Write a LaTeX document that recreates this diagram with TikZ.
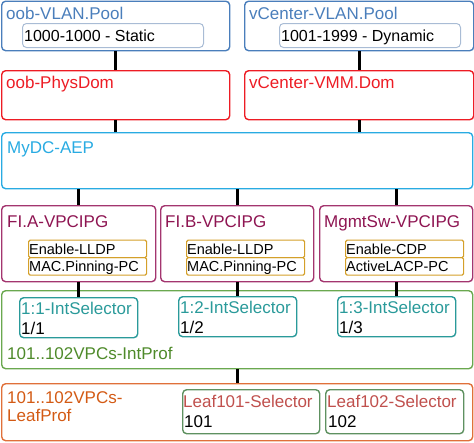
\documentclass[tikz,border=0pt]{standalone}
\usepackage{fontspec}
\setmainfont{Liberation Sans}
\usetikzlibrary{
  calc
  , positioning
}
\definecolor{poolblue}{HTML}{4A7EBB}
\definecolor{poolinner}{HTML}{A9BCD5}
\definecolor{domred}{HTML}{ED1C24}
\definecolor{aepcyan}{HTML}{29ABE2}
\definecolor{ipgline}{HTML}{A3356F}
\definecolor{ipgtext}{HTML}{8E1552}
\definecolor{polgold}{HTML}{D4A02A}
\definecolor{profline}{HTML}{6AA84F}
\definecolor{proftext}{HTML}{4E8A2A}
\definecolor{selteal}{HTML}{2A9A9A}
\definecolor{leafline}{HTML}{E0703A}
\definecolor{leaftext}{HTML}{D35A14}
\definecolor{lselline}{HTML}{5E9160}
\definecolor{lseltext}{HTML}{C0504D}
\tikzset{
  box/.style={draw=#1, rounded corners=4pt, line width=1.4pt,
    inner sep=0pt, anchor=north west},
  polbox/.style={draw=polgold, rounded corners=1.5pt, line width=1.2pt,
    inner sep=0pt, anchor=north west, minimum width=118pt, minimum height=17.5pt},
  title/.style={text=#1, anchor=west, inner sep=0pt,
    font=\fontsize{17}{17}\selectfont, text height=12.2pt, text depth=0pt},
  valtext/.style={anchor=west, inner sep=0pt,
    font=\fontsize{16}{16}\selectfont, text height=11.5pt, text depth=0pt},
  poltext/.style={anchor=west, inner sep=0pt,
    font=\fontsize{14.5}{14.5}\selectfont, text height=10.4pt, text depth=0pt},
  conn/.style={line width=3pt},
}
\begin{document}
\begin{tikzpicture}[x=1pt, y=-1pt]
      \useasboundingbox (0,0) rectangle (474,442);

      % vlan pools
      \node [box=poolblue, minimum width=228, minimum height=49.5] (pool1) at (1,0.5) {};
      \node [box=poolblue, minimum width=229, minimum height=49.5] (pool2) at (244,0.5) {};
      \node [box=poolinner, line width=1pt, minimum width=181, minimum height=24] (val1) at (22,23) {};
      \node [box=poolinner, line width=1pt, minimum width=181, minimum height=24] (val2) at (279,23) {};
      \node [title=poolblue] (pool1t) at ($(pool1.north west)+(5,13)$) {oob-VLAN.Pool};
      \node [title=poolblue] (pool2t) at ($(pool2.north west)+(5,13)$) {vCenter-VLAN.Pool};
      \node [valtext] (val1t) at ($(val1.west)+(2,0)$) {1000-1000 - Static};
      \node [valtext] (val2t) at ($(val2.west)+(2,0)$) {1001-1999 - Dynamic};

      % domains
      \node [box=domred, minimum width=228, minimum height=49] (phys1) at (1,70) {};
      \node [box=domred, minimum width=229, minimum height=49] (phys2) at (244,70) {};
      \node [title=domred] (phys1t) at ($(phys1.north west)+(5,12)$) {oob-PhysDom};
      \node [title=domred] (phys2t) at ($(phys2.north west)+(5,12)$) {vCenter-VMM.Dom};

      % aep
      \node [box=aepcyan, minimum width=471, minimum height=56] (aep) at (1,132) {};
      \node [title=aepcyan] (aept) at ($(aep.north west)+(6,15)$) {MyDC-AEP};

      % policy groups
      \node [box=ipgline, minimum width=154, minimum height=76] (ipga) at (1,205) {};
      \node [box=ipgline, minimum width=153, minimum height=76] (ipgb) at (160,205) {};
      \node [box=ipgline, minimum width=153, minimum height=76] (ipgc) at (319,205) {};
      \node [title=ipgtext] (ipgat) at ($(ipga.north west)+(6,16)$) {FI.A-VPCIPG};
      \node [title=ipgtext] (ipgbt) at ($(ipgb.north west)+(5,16)$) {FI.B-VPCIPG};
      \node [title=ipgtext] (ipgct) at ($(ipgc.north west)+(5,16)$) {MgmtSw-VPCIPG};

      \node [polbox] (lldpa) at (28,239.5) {};
      \node [polbox] (maca) at (28,257) {};
      \node [polbox] (lldpb) at (186,239.5) {};
      \node [polbox] (macb) at (186,257) {};
      \node [polbox] (cdpc) at (345,239.5) {};
      \node [polbox] (lacpc) at (345,257) {};
      \node [poltext] (lldpat) at ($(lldpa.west)+(1,0)$) {Enable-LLDP};
      \node [poltext] (macat) at ($(maca.west)+(1,0)$) {MAC.Pinning-PC};
      \node [poltext] (lldpbt) at ($(lldpb.west)+(1,0)$) {Enable-LLDP};
      \node [poltext] (macbt) at ($(macb.west)+(1,0)$) {MAC.Pinning-PC};
      \node [poltext] (cdpct) at ($(cdpc.west)+(1,0)$) {Enable-CDP};
      \node [poltext] (lacpct) at ($(lacpc.west)+(1,0)$) {ActiveLACP-PC};

      % interface profile
      \node [box=profline, minimum width=471, minimum height=78] (intprof) at (1,290) {};
      \node [title=proftext] (intproft) at ($(intprof.north west)+(6,63)$) {101..102VPCs-IntProf};

      \node [box=selteal, minimum width=118, minimum height=40] (sela) at (19,297) {};
      \node [box=selteal, minimum width=118, minimum height=40] (selb) at (178,296) {};
      \node [box=selteal, minimum width=118, minimum height=40] (selc) at (337,296) {};
      \node [title=selteal] (selat) at ($(sela.north west)+(2,11)$) {1:1-IntSelector};
      \node [title=black] (selap) at ($(sela.north west)+(2,31)$) {1/1};
      \node [title=selteal] (selbt) at ($(selb.north west)+(2,11)$) {1:2-IntSelector};
      \node [title=black] (selbp) at ($(selb.north west)+(2,31)$) {1/2};
      \node [title=selteal] (selct) at ($(selc.north west)+(2,11)$) {1:3-IntSelector};
      \node [title=black] (selcp) at ($(selc.north west)+(2,31)$) {1/3};

      % leaf profile
      \node [box=leafline, minimum width=471, minimum height=57] (leafprof) at (1,383) {};
      \node [title=leaftext] (leafproft) at ($(leafprof.north west)+(6,14)$) {101..102VPCs-};
      \node [title=leaftext] (leafprofu) at ($(leafprof.north west)+(6,32)$) {LeafProf};

      \node [box=lselline, minimum width=137, minimum height=44] (leafa) at (182,389) {};
      \node [box=lselline, minimum width=138, minimum height=44] (leafb) at (325,389) {};
      \node [title=lseltext] (leafat) at ($(leafa.north west)+(1,12)$) {Leaf101-Selector};
      \node [title=black] (leafan) at ($(leafa.north west)+(2,32)$) {101};
      \node [title=lseltext] (leafbt) at ($(leafb.north west)+(2,12)$) {Leaf102-Selector};
      \node [title=black] (leafbn) at ($(leafb.north west)+(3,32)$) {102};

      % connectors
      \draw [conn] (pool1) -- (phys1);
      \draw [conn] (pool2) -- (phys2);
      \draw [conn] (phys1) -- (phys1 |- aep.north);
      \draw [conn] (phys2) -- (phys2 |- aep.north);
      \draw [conn] (aep.south -| ipga) -- (ipga);
      \draw [conn] (aep.south -| ipgb) -- (ipgb);
      \draw [conn] (aep.south -| ipgc) -- (ipgc);
      \draw [conn] (ipga) -- (sela);
      \draw [conn] (ipgb) -- (ipgb |- selb.north);
      \draw [conn] (ipgc) -- (ipgc |- selc.north);
      \draw [conn] (intprof) -- (leafprof);
    \end{tikzpicture}
\end{document}
